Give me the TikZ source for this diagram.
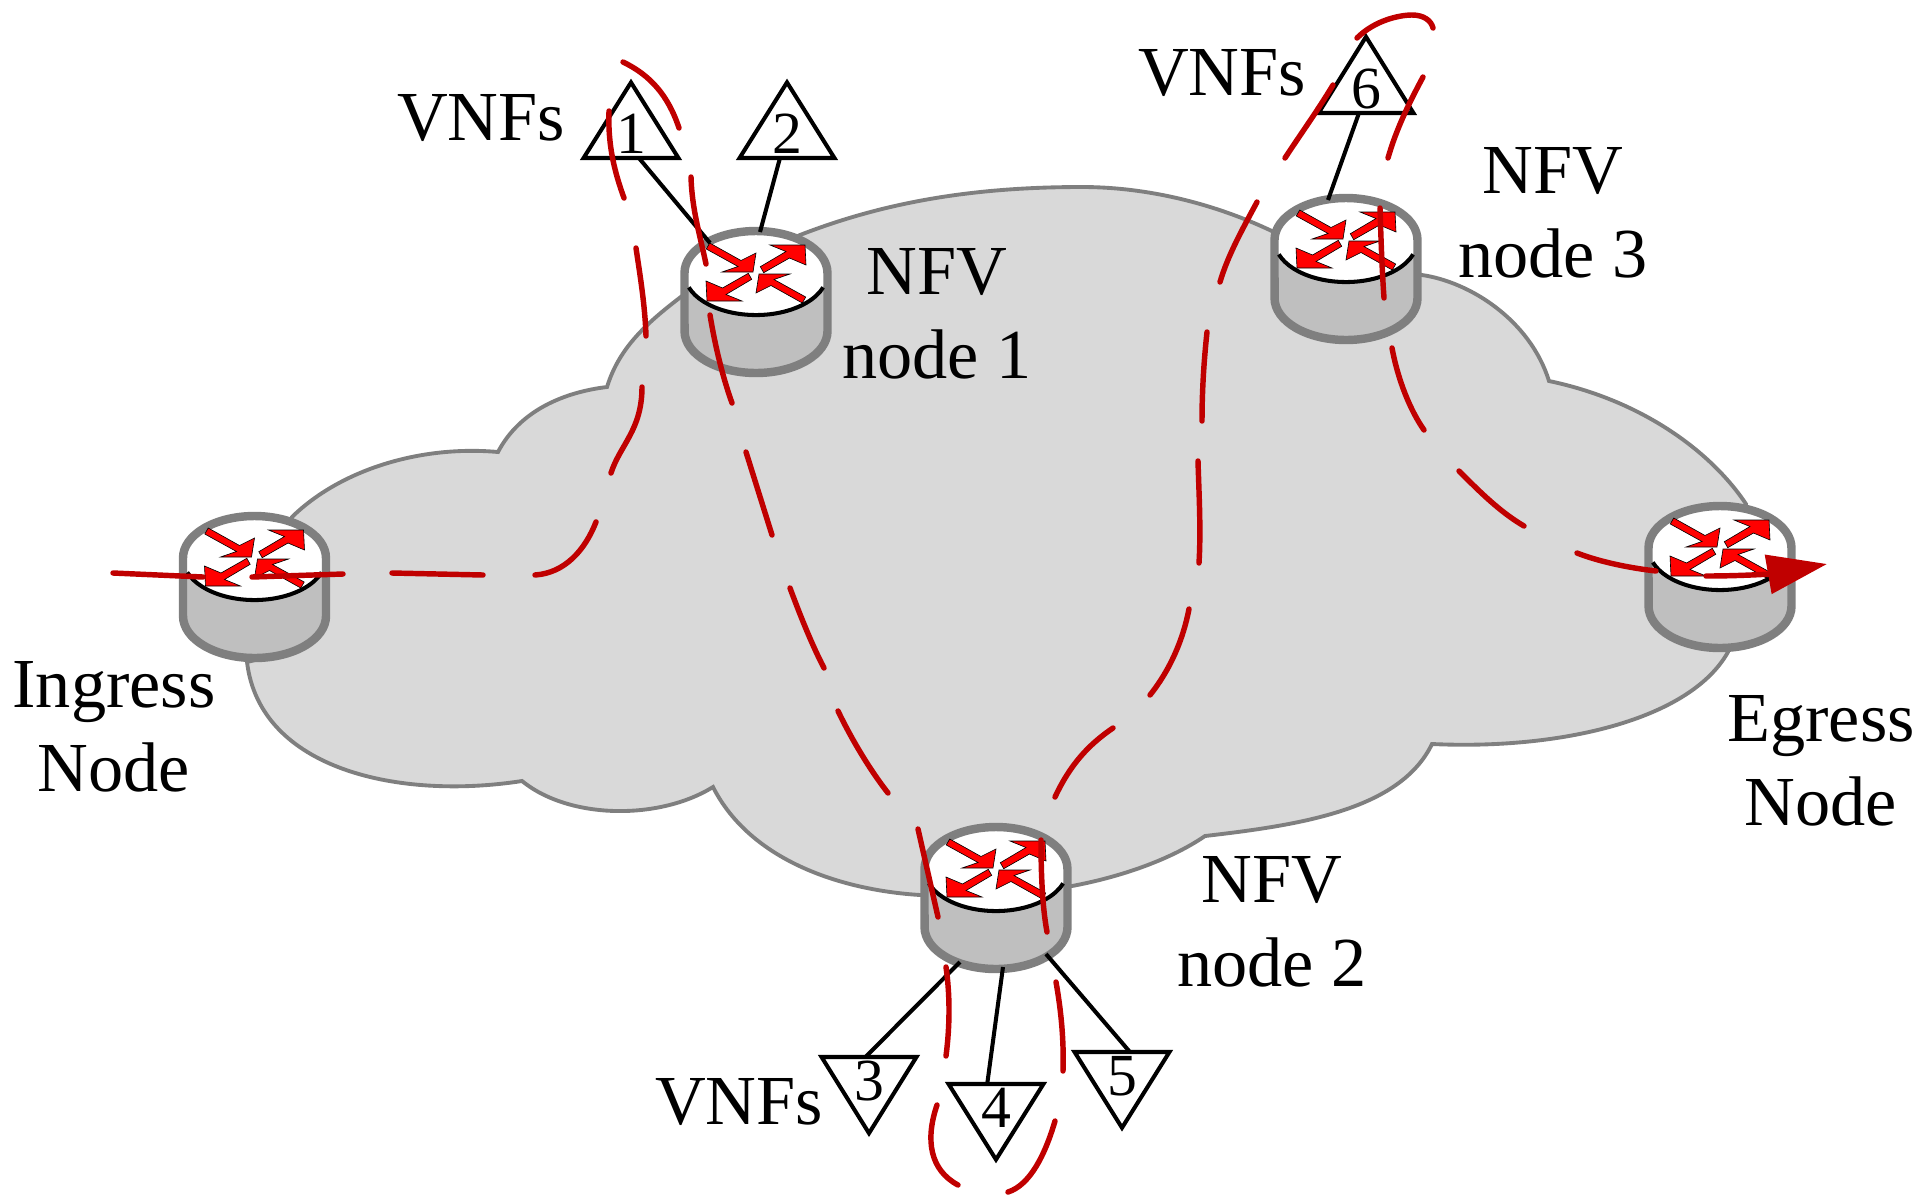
\documentclass[tikz,border=0pt]{standalone}
\usepackage{fontspec}
\setmainfont{Liberation Serif}
\usetikzlibrary{shapes.geometric,arrows.meta}
\definecolor{cloudgray}{HTML}{D9D9D9}
\definecolor{ringgray}{HTML}{7F7F7F}
\definecolor{bodygray}{HTML}{BFBFBF}
\definecolor{sfcred}{HTML}{C00000}
\tikzset{
  router/.pic={
    \path[fill=bodygray] (-71.5,0) arc[start angle=180, end angle=0, x radius=1.43cm, y radius=.84cm] -- (71.5,58) arc[start angle=0, end angle=-180, x radius=1.43cm, y radius=.84cm] -- cycle;
    \fill[white] (0,0) ellipse[x radius=1.43cm, y radius=.84cm];
    \draw[ringgray, line width=4.8pt] (-71.5,0) arc[start angle=180, end angle=0, x radius=1.43cm, y radius=.84cm] -- (71.5,58) arc[start angle=0, end angle=-180, x radius=1.43cm, y radius=.84cm] -- cycle;
    \draw[black, line width=2.3pt] (-67.2,14.4) arc[start angle=200, end angle=340, x radius=1.43cm, y radius=.84cm];
    \foreach \r in {0,180} {
      \begin{scope}[rotate=\r]
        \draw[fill=red, line width=.35pt] (-3,-1) -- (-34,-1) -- (-18,-6.5) -- (-49.7,-24) -- (-46.3,-30) -- (-15,-12.5) -- (0,-20) -- cycle;
        \draw[fill=red, line width=.35pt] (49,-28) -- (14,-28) -- (30,-21.5) -- (4.3,-6.3) -- (7.7,-0.3) -- (33.5,-15) -- (50,-8) -- cycle;
      \end{scope}
    }
  }
}
\begin{document}
\begin{tikzpicture}[x=0.02cm, y=-0.02cm,
  vnfup/.style={isosceles triangle, isosceles triangle stretches, shape border rotate=90, draw, line width=2.3pt, minimum width=54pt, minimum height=43pt, inner sep=0pt, outer sep=0pt, anchor=lower side, font=\fontsize{34}{34}\selectfont},
  vnfdown/.style={vnfup, shape border rotate=-90},
  link/.style={line width=2.3pt},
  sfc/.style={sfcred, line width=3.1pt, line cap=round},
  lbl/.style={align=center, font=\fontsize{40}{48}\selectfont}]

\useasboundingbox (0,0) rectangle (1924,1201);

\draw[fill=cloudgray, draw=ringgray, line width=2.2pt] (255,660) -- (292,517)
  .. controls (340,470) and (420,445) .. (498,452)
  .. controls (520,410) and (565,392) .. (607,387)
  .. controls (620,345) and (650,320) .. (690,290) -- (800,235)
  .. controls (890,200) and (980,187) .. (1082,187)
  .. controls (1150,187) and (1220,205) .. (1280,235) -- (1422,275)
  .. controls (1470,282) and (1530,320) .. (1549,381)
  .. controls (1640,400) and (1710,450) .. (1746,504) -- (1728,652)
  .. controls (1690,720) and (1560,750) .. (1432,744)
  .. controls (1400,810) and (1300,825) .. (1205,836)
  .. controls (1170,860) and (1120,877) .. (1072,886) -- (920,895)
  .. controls (840,890) and (750,860) .. (713,787)
  .. controls (660,820) and (570,820) .. (522,781)
  .. controls (400,800) and (260,770) .. (247,662) -- cycle;

\pic (ingress) at (254.5,558) {router};
\pic (nfv1) at (756,273) {router};
\pic (nfv2) at (996,869) {router};
\pic (nfv3) at (1346,240) {router};
\pic (egress) at (1720,548) {router};

\node[vnfup] (vnf1) at (631,158) {1};
\node[vnfup] (vnf2) at (787,158) {2};
\node[vnfup] (vnf6) at (1366,113) {6};
\node[vnfdown] (vnf3) at (869,1057) {3};
\node[vnfdown] (vnf4) at (996,1084) {4};
\node[vnfdown] (vnf5) at (1122,1052) {5};

\coordinate (port1) at (710,243);
\coordinate (port2) at (760,232);
\coordinate (port3) at (960,962);
\coordinate (port4) at (1003,967);
\coordinate (port5) at (1046,954);
\coordinate (port6) at (1328,200);

\draw[link] ([xshift=4.5pt]vnf1.lower side) -- (port1);
\draw[link] ([xshift=-4pt]vnf2.lower side) -- (port2);
\draw[link] ([xshift=-2pt]vnf3.lower side) -- (port3);
\draw[link] ([xshift=-5pt]vnf4.lower side) -- (port4);
\draw[link] ([xshift=4.5pt]vnf5.lower side) -- (port5);
\draw[link] ([xshift=-4pt]vnf6.lower side) -- (port6);

\node[lbl] (vnfs12) at (481,118) {VNFs};
\node[lbl] (vnfs6) at (1222,73) {VNFs};
\node[lbl] (vnfs345) at (739,1102) {VNFs};
\node[lbl] (lblnfv1) at (937,314) {NFV\\node 1};
\node[lbl] (lblnfv2) at (1272,922) {NFV\\node 2};
\node[lbl] (lblnfv3) at (1553,213) {NFV\\node 3};
\node[lbl] (lblingress) at (114,727) {Ingress\\Node};
\node[lbl] (lblegress) at (1821,761) {Egress\\Node};

% service chain
\draw[sfc] (113,573) -- (203,577);
\draw[sfc] (252,577) -- (343,574);
\draw[sfc] (392,573) -- (483,575);
\draw[sfc] (535,575) .. controls (565,573) and (585,550) .. (596,522);
\draw[sfc] (611,473) .. controls (620,445) and (642,430) .. (642,387);
\draw[sfc] (646,336) .. controls (645,305) and (640,275) .. (636,248);
\draw[sfc] (624,198) .. controls (612,165) and (608,140) .. (609,111);
\draw[sfc] (623,62) .. controls (650,75) and (668,95) .. (679,128);
\draw[sfc] (691,177) .. controls (692,210) and (700,235) .. (706,264);
\draw[sfc] (710,315) .. controls (715,345) and (722,375) .. (732,403);
\draw[sfc] (746,452) -- (772,535);
\draw[sfc] (790,588) .. controls (800,615) and (812,645) .. (824,668);
\draw[sfc] (838,711) .. controls (852,740) and (870,770) .. (888,793);
\draw[sfc] (918,829) -- (938,917);
\draw[sfc] (946,967) .. controls (950,995) and (950,1025) .. (946,1056);
\draw[sfc] (937,1105) .. controls (925,1140) and (930,1170) .. (958,1185);
\draw[sfc] (1008,1192) .. controls (1030,1185) and (1045,1155) .. (1055,1121);
\draw[sfc] (1063,1071) .. controls (1064,1040) and (1061,1010) .. (1056,982);
\draw[sfc] (1047,932) .. controls (1042,905) and (1041,870) .. (1041,840);
\draw[sfc] (1055,797) .. controls (1070,765) and (1088,745) .. (1113,728);
\draw[sfc] (1150,695) .. controls (1170,670) and (1183,640) .. (1189,609);
\draw[sfc] (1199,563) .. controls (1201,530) and (1199,495) .. (1198,461);
\draw[sfc] (1202,421) .. controls (1202,390) and (1204,360) .. (1207,332);
\draw[sfc] (1220,282) .. controls (1228,255) and (1242,230) .. (1257,202);
\draw[sfc] (1285,158) .. controls (1300,135) and (1318,110) .. (1333,85);
\draw[sfc] (1357,38) .. controls (1375,20) and (1400,15) .. (1412,15) .. controls (1423,15) and (1431,20) .. (1433,28);
\draw[sfc] (1423,77) .. controls (1408,105) and (1396,130) .. (1388,158);
\draw[sfc] (1380,208) .. controls (1381,240) and (1382,270) .. (1384,298);
\draw[sfc] (1392,348) .. controls (1398,380) and (1410,410) .. (1424,430);
\draw[sfc] (1459,471) .. controls (1480,492) and (1500,512) .. (1524,526);
\draw[sfc] (1577,553) .. controls (1600,562) and (1630,568) .. (1656,571);
\draw[sfc, -{Triangle[length=34pt,width=22pt]}] (1706,576) .. controls (1740,576) and (1770,574) .. (1827,564);

\end{tikzpicture}
\end{document}
